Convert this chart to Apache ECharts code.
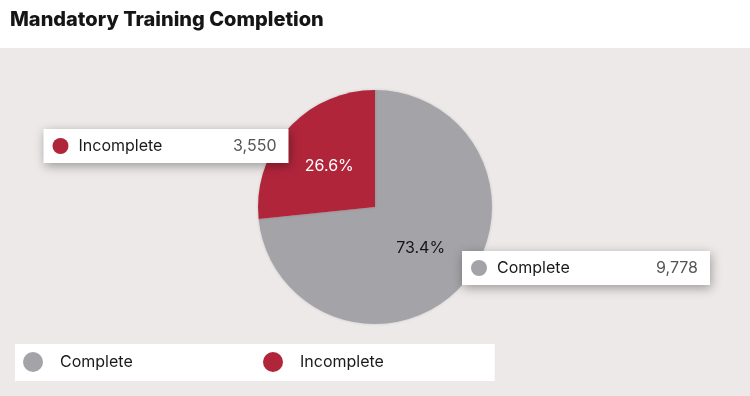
<!DOCTYPE html>
<html><head><meta charset="utf-8">
<script src="https://cdn.jsdelivr.net/npm/echarts@6/dist/echarts.min.js"></script>
<style>html,body{margin:0;padding:0;background:#fff}#c{width:750px;height:396px}</style>
</head><body><div id="c"></div>
<script>
const categories = ['Complete', 'Incomplete'];
const values = [9778, 3550];
const colors = ['#a4a3a8', '#b1253b'];
const pctColors = ['#151515', '#ffffff'];
const labelPos = [[586, 268], [166, 146]];
const boxContentWidth = [227, 224];
const legendLeft = [15, 255];

const FONT = 'Inter, Roboto, "Noto Sans", sans-serif';
const total = values.reduce((a, b) => a + b, 0);
const ctx = document.createElement('canvas').getContext('2d');
ctx.font = '16px ' + FONT;
const tw = s => ctx.measureText(s).width;
const fmt = v => v.toLocaleString('en-US');

const data = categories.map((c, i) => ({ name: c, value: values[i], itemStyle: { color: colors[i] },
  label: { color: pctColors[i] } }));

const legends = categories.map((c, i) => ({
  data: [c], left: legendLeft[i], top: 344, orient: 'horizontal', z: 3 + i,
  backgroundColor: i === 0 ? '#ffffff' : 'transparent',
  padding: i === 0 ? [8, Math.round(480 - 8 - (20 + 5 + 12 + tw(c))), 9, 8] : [8, 8, 9, 8],
  icon: 'circle', itemWidth: 20, itemHeight: 20,
  textStyle: { fontFamily: FONT, fontSize: 16, color: '#1a1a1a', padding: [0, 0, 0, 12] }
}));

const richBox = {
  g: { width: 10, height: 16 },
  n: { fontFamily: FONT, fontSize: 16, color: '#1a1a1a', height: 18 },
  v: { fontFamily: FONT, fontSize: 16, color: '#555555', height: 18 }
};
categories.forEach((c, i) => {
  richBox['m' + i] = { width: 16, height: 16, borderRadius: 8, backgroundColor: colors[i] };
  richBox['s' + i] = { width: boxContentWidth[i] - 26 - tw(c) - tw(fmt(values[i])), height: 16 };
});

const chart = echarts.init(document.getElementById('c'));
chart.setOption({
  backgroundColor: '#ede9e8',
  animation: false,
  graphic: [{ type: 'rect', left: 0, top: 0, shape: { width: 750, height: 48 }, style: { fill: '#ffffff' }, z: -1 }],
  title: { text: 'Mandatory Training Completion', left: 10, top: 10, padding: 0,
    textStyle: { fontFamily: FONT, fontSize: 20, fontWeight: 800, color: '#151515' } },
  legend: legends,
  series: [
    {
      type: 'pie', center: [375, 207], radius: [0, 117], startAngle: 90, clockwise: true,
      data: data, silent: true,
      itemStyle: { shadowBlur: 3, shadowColor: 'rgba(0,0,0,0.15)' },
      label: { show: true, position: 'inside', fontFamily: FONT, fontSize: 16,
        formatter: p => (p.value / total * 100).toFixed(1) + '%' },
      labelLine: { show: false },
      emphasis: { disabled: true }
    },
    {
      type: 'pie', center: [375, 207], radius: [0, 117], startAngle: 90, clockwise: true,
      data: data.map((d, i) => ({ name: d.name, value: d.value, itemStyle: { color: 'rgba(0,0,0,0)' },
        label: { width: boxContentWidth[i] } })),
      silent: true, z: 5, legendHoverLink: false,
      label: {
        show: true, position: 'outside', overflow: 'none',
        backgroundColor: '#ffffff', padding: [8, 12, 8, 9],
        shadowBlur: 10, shadowColor: 'rgba(0,0,0,0.35)', shadowOffsetX: 1, shadowOffsetY: 3,
        formatter: p => '{m' + p.dataIndex + '|}{g|}{n|' + p.name + '}{s' + p.dataIndex + '|}{v|' + fmt(p.value) + '}',
        rich: richBox
      },
      labelLine: { show: false },
      labelLayout: p => ({ x: labelPos[p.dataIndex][0], y: labelPos[p.dataIndex][1], align: 'center', verticalAlign: 'middle', hideOverlap: false }),
      emphasis: { disabled: true }
    }
  ]
});
</script></body></html>
